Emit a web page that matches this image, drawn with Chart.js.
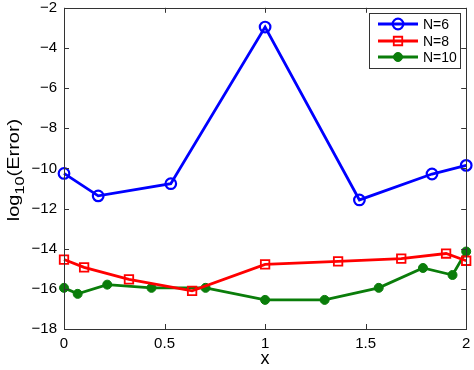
<!DOCTYPE html>
<html>
<head>
<meta charset="utf-8">
<script src="https://cdn.jsdelivr.net/npm/chart.js@4.4.0/dist/chart.umd.min.js"></script>
<style>
html,body{margin:0;padding:0;background:#fff;}
#wrap{width:474px;height:370px;position:relative;}
</style>
</head>
<body>
<div id="wrap"><canvas id="c" width="474" height="370"></canvas></div>
<script>
// Data
const seriesLabels = ['N=6', 'N=8', 'N=10'];
const n6X = [0, 0.170, 0.531, 1.0, 1.469, 1.830, 2.0];
const n6Y = [-10.25, -11.37, -10.76, -2.96, -11.57, -10.28, -9.85];
const n8X = [0, 0.100, 0.323, 0.637, 1.0, 1.363, 1.677, 1.900, 2.0];
const n8Y = [-14.54, -14.93, -15.53, -16.10, -14.78, -14.63, -14.49, -14.24, -14.60];
const n10X = [0, 0.068, 0.215, 0.435, 0.704, 1.0, 1.296, 1.565, 1.785, 1.932, 2.0];
const n10Y = [-15.95, -16.25, -15.79, -15.95, -15.95, -16.55, -16.55, -15.95, -14.96, -15.31, -14.14];
const xTicks = [0, 0.5, 1, 1.5, 2];
const yTicks = [-18, -16, -14, -12, -10, -8, -6, -4, -2];

const FONT = '"Liberation Sans", Arial, Helvetica, sans-serif';
const toPts = (xs, ys) => xs.map((x, i) => ({x: x, y: ys[i]}));

const frameAndTicks = {
  id: 'frameAndTicks',
  afterDatasetsDraw(chart) {
    const {ctx, chartArea: a, scales} = chart;
    ctx.save();
    ctx.strokeStyle = '#333';
    ctx.lineWidth = 1;
    const L = 5;
    ctx.beginPath();
    xTicks.forEach(v => {
      const px = Math.round(scales.x.getPixelForValue(v)) + 0.5;
      ctx.moveTo(px, a.bottom); ctx.lineTo(px, a.bottom - L);
      ctx.moveTo(px, a.top); ctx.lineTo(px, a.top + L);
    });
    yTicks.forEach(v => {
      const py = Math.round(scales.y.getPixelForValue(v)) + 0.5;
      ctx.moveTo(a.left, py); ctx.lineTo(a.left + L, py);
      ctx.moveTo(a.right, py); ctx.lineTo(a.right - L, py);
    });
    ctx.stroke();
    ctx.strokeRect(Math.round(a.left) + 0.5, Math.round(a.top) + 0.5,
                   Math.round(a.right - a.left), Math.round(a.bottom - a.top));
    ctx.restore();
  },
  afterDraw(chart) {
    const {ctx} = chart;
    // y-axis title with subscript
    ctx.save();
    ctx.fillStyle = '#000';
    ctx.textBaseline = 'alphabetic';
    const big = '16px ' + FONT, small = '13px ' + FONT;
    ctx.font = big; const w1 = ctx.measureText('log').width;
    const w3 = ctx.measureText('(Error)').width;
    ctx.font = small; const w2 = ctx.measureText('10').width;
    const total = w1 + w2 + w3;
    ctx.translate(19, 170);
    ctx.rotate(-Math.PI / 2);
    ctx.scale(1.25, 1);
    let x0 = -total / 2;
    ctx.font = big; ctx.textAlign = 'left';
    ctx.fillText('log', x0, 0);
    ctx.font = small; ctx.fillText('10', x0 + w1, 5);
    ctx.font = big; ctx.fillText('(Error)', x0 + w1 + w2, 0);
    ctx.restore();

    // legend
    ctx.save();
    const bx = 369.5, by = 13.5, bw = 91, bh = 55;
    ctx.fillStyle = '#fff';
    ctx.fillRect(bx, by, bw, bh);
    ctx.strokeStyle = '#333'; ctx.lineWidth = 1;
    ctx.strokeRect(bx, by, bw, bh);
    const rows = [24, 41, 57];
    chart.data.datasets.forEach((ds, i) => {
      const y = rows[i];
      ctx.strokeStyle = ds.borderColor; ctx.lineWidth = ds.borderWidth;
      ctx.beginPath(); ctx.moveTo(378, y); ctx.lineTo(418, y); ctx.stroke();
      ctx.fillStyle = ds.pointBackgroundColor; ctx.strokeStyle = ds.borderColor;
      ctx.lineWidth = ds.pointBorderWidth;
      ctx.beginPath();
      if (ds.pointStyle === 'rect') {
        const s = ds.pointRadius * Math.SQRT1_2;
        ctx.rect(398 - s, y - s, 2 * s, 2 * s);
      } else {
        ctx.arc(398, y, ds.pointRadius, 0, Math.PI * 2);
      }
      ctx.fill(); ctx.stroke();
      ctx.fillStyle = '#000'; ctx.font = '14px ' + FONT;
      ctx.textAlign = 'left'; ctx.textBaseline = 'middle';
      ctx.fillText(ds.label, 423, y + 1);
    });
    ctx.restore();
  }
};

new Chart(document.getElementById('c'), {
  type: 'line',
  data: {
    datasets: [
      {label: seriesLabels[0], data: toPts(n6X, n6Y), borderColor: '#0000ff', borderWidth: 2.8,
       pointStyle: 'circle', pointRadius: 5.3, pointBorderWidth: 2.2, pointBackgroundColor: 'rgba(255,255,255,0)',
       pointBorderColor: '#0000ff', tension: 0, clip: false},
      {label: seriesLabels[1], data: toPts(n8X, n8Y), borderColor: '#ff0000', borderWidth: 2.8,
       pointStyle: 'rect', pointRadius: 6, pointBorderWidth: 1.8, pointBackgroundColor: 'rgba(255,255,255,0)',
       pointBorderColor: '#ff0000', tension: 0, clip: false},
      {label: seriesLabels[2], data: toPts(n10X, n10Y), borderColor: '#0a7d0a', borderWidth: 2.8,
       pointStyle: 'circle', pointRadius: 4.5, pointBorderWidth: 1, pointBackgroundColor: '#0a7d0a',
       pointBorderColor: '#0a7d0a', tension: 0, clip: false}
    ]
  },
  options: {
    responsive: false,
    animation: false,
    layout: {padding: {top: 6, right: 7, left: 0, bottom: 0}},
    plugins: {legend: {display: false}, tooltip: {enabled: false}},
    scales: {
      x: {
        type: 'linear', min: 0, max: 2,
        afterBuildTicks: s => { s.ticks = xTicks.map(v => ({value: v})); },
        afterFit: s => { s.height = 41; s.paddingLeft = 0; s.paddingRight = 0; },
        grid: {display: false, drawTicks: false},
        border: {display: false},
        ticks: {padding: 6, color: '#000', font: {family: FONT, size: 15},
                maxRotation: 0, callback: v => String(v)},
        title: {display: true, text: 'x', color: '#000', font: {family: FONT, size: 18}, padding: {top: 0, bottom: 0}}
      },
      y: {
        type: 'linear', min: -18, max: -2,
        afterBuildTicks: s => { s.ticks = yTicks.map(v => ({value: v})); },
        afterFit: s => { s.width = 64; s.paddingTop = 0; s.paddingBottom = 0; },
        grid: {display: false, drawTicks: false},
        border: {display: false},
        ticks: {padding: 7, color: '#000', font: {family: FONT, size: 15},
                callback: v => String(v).replace('-', '\u2212')}
      }
    }
  },
  plugins: [frameAndTicks]
});
</script>
</body>
</html>
